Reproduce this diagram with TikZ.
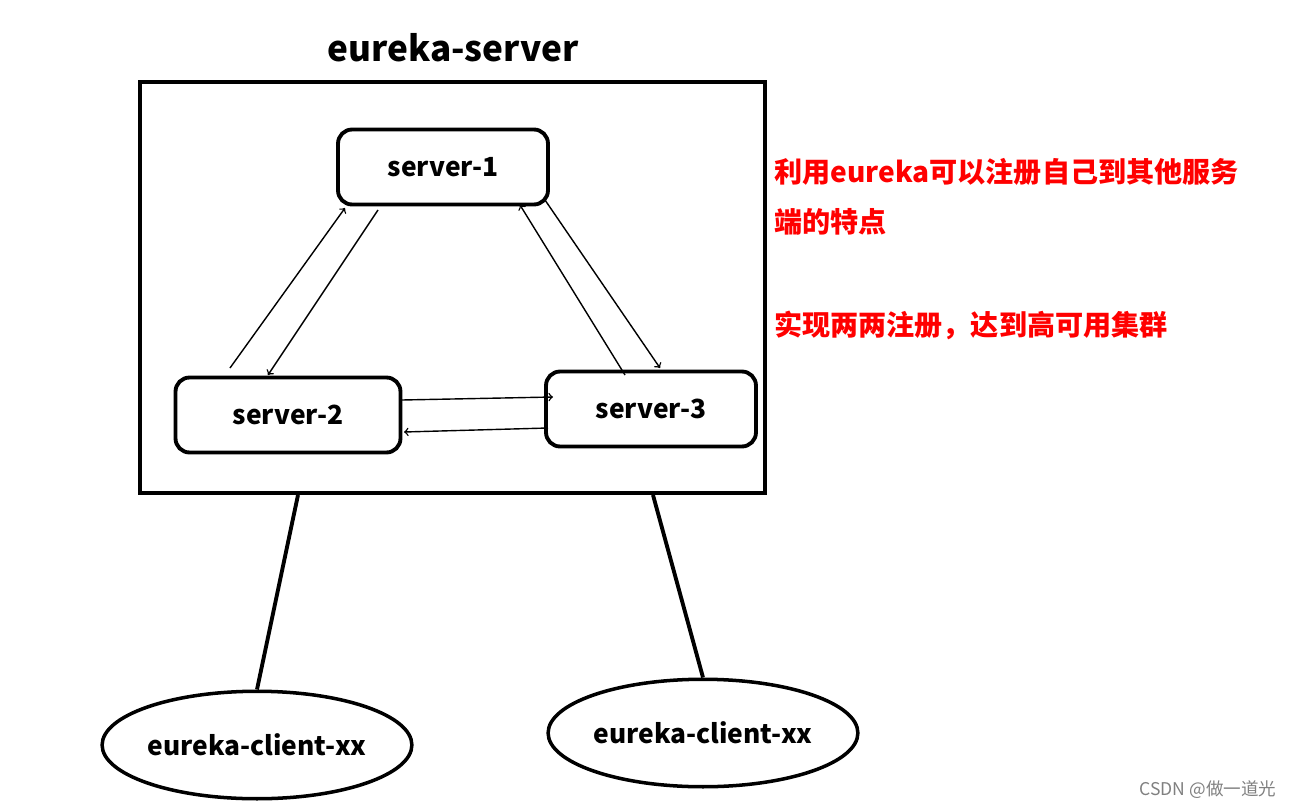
\documentclass[tikz,border=0pt]{standalone}
\usepackage{fontspec}
\setmainfont{Noto Sans CJK SC}
\usetikzlibrary{positioning,shapes.geometric}
\begin{document}
\begin{tikzpicture}[
    x=0.02cm, y=-0.02cm,
    box/.style={rectangle, rounded corners=8pt, draw, line width=2.2pt, minimum width=4.2cm, minimum height=1.5cm, font=\fontsize{15}{18}\selectfont\bfseries},
    client/.style={ellipse, draw, line width=2pt, inner sep=0pt, minimum width=5.8cm, minimum height=2.15cm, font=\fontsize{15}{18}\selectfont\bfseries},
    arrow/.style={->, line width=0.8pt},
    note/.style={anchor=west, text=red, font=\fontsize{16}{19}\selectfont\bfseries}
]
    \useasboundingbox (0,0) rectangle (1292,808);

    % Server cluster
    \node[font=\fontsize{20}{24}\selectfont\bfseries] (title) at (453,48) {eureka-server};
    \draw[line width=2.5pt] (140,82) rectangle (765,493);
    \node[box] (s1) at (443,167) {server-1};
    \node[box, minimum width=4.5cm] (s2) at (288,415) {server-2};
    \node[box] (s3) at (651,409) {server-3};

    % Arrow end points
    \coordinate (a1) at (230,368); \coordinate (a2) at (345,208);
    \coordinate (b1) at (378,210); \coordinate (b2) at (268,375);
    \coordinate (c1) at (545,200); \coordinate (c2) at (660,368);
    \coordinate (d1) at (625,375); \coordinate (d2) at (520,205);
    \coordinate (e1) at (402,400); \coordinate (e2) at (553,397);
    \coordinate (f1) at (548,428); \coordinate (f2) at (404,432);

    % Mutual registration
    \draw[arrow] (a1) -- (a2);
    \draw[arrow] (b1) -- (b2);
    \draw[arrow] (c1) -- (c2);
    \draw[arrow] (d1) -- (d2);
    \draw[arrow] (e1) -- (e2);
    \draw[arrow] (f1) -- (f2);

    % Clients
    \node[client] (cl1) at (257,745) {eureka-client-xx};
    \node[client] (cl2) at (703,733) {eureka-client-xx};
    \coordinate (l1) at (298,495);
    \coordinate (l2) at (653,495);
    \draw[line width=2.2pt] (l1) -- (cl1.north);
    \draw[line width=2.2pt] (l2) -- (cl2.north);

    % Notes
    \node[note] (n1) at (768,172) {利用eureka可以注册自己到其他服务};
    \node[note] (n2) at (768,222) {端的特点};
    \node[note] (n3) at (768,325) {实现两两注册，达到高可用集群};
    \node[text=gray, font=\fontsize{10}{12}\selectfont] (wm) at (1208,790) {CSDN @做一道光};
\end{tikzpicture}
\end{document}
